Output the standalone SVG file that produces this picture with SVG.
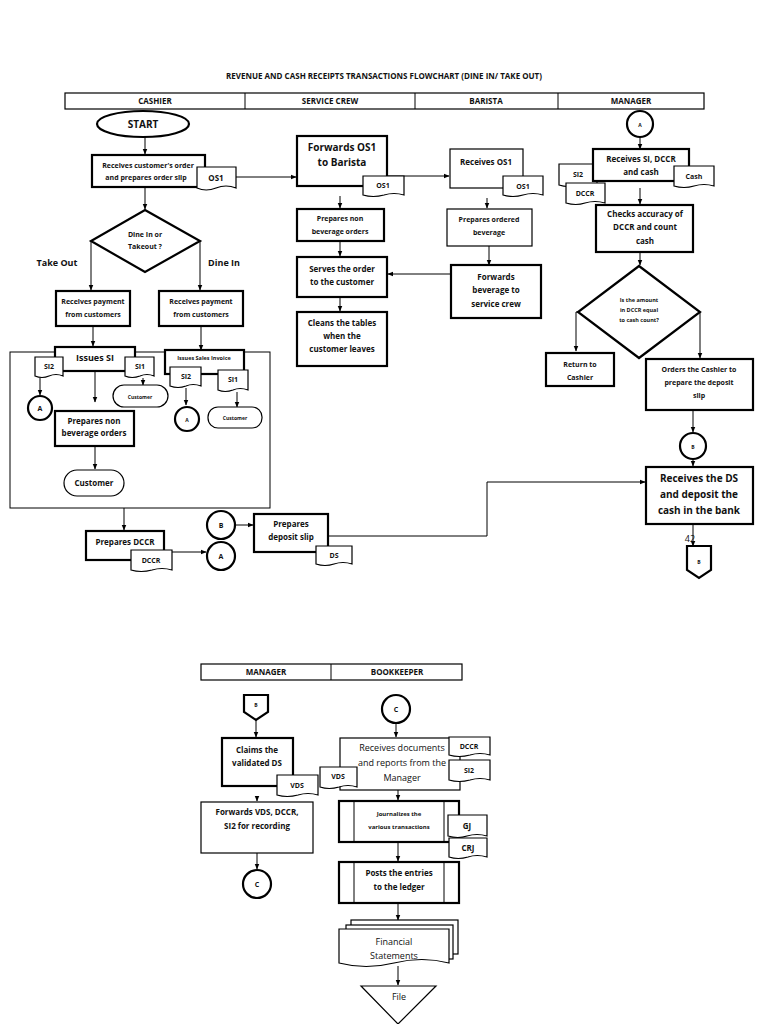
<svg xmlns="http://www.w3.org/2000/svg" width="768" height="1024" viewBox="0 0 768 1024">
<style>
text{font-family:"Open Sans","Liberation Sans",sans-serif;font-weight:bold;fill:#111;text-anchor:middle}
.t7{font-size:7px}.t8{font-size:8px}.t9{font-size:9px}.t10{font-size:10px}.t11{font-size:11px}
.b{fill:#fff;stroke:#000;stroke-width:1.2}
.k{fill:#fff;stroke:#000;stroke-width:2.2}
.d{fill:#fff;stroke:#000;stroke-width:1.2}
.c{fill:none;stroke:#000;stroke-width:1}
.ca{fill:none;stroke:#000;stroke-width:1;marker-end:url(#ah)}
</style>
<defs>
<marker id="ah" viewBox="0 0 10 10" refX="9" refY="5" markerWidth="6" markerHeight="6" orient="auto"><path d="M0,1 L10,5 L0,9 z" fill="#000"/></marker>
</defs>
<rect width="768" height="1024" fill="#fff"/>
<text x="384" y="79" class="t8">REVENUE AND CASH RECEIPTS TRANSACTIONS FLOWCHART (DINE IN/ TAKE OUT)</text>
<g id="header1">
<rect x="65" y="93" width="639" height="16" class="b"/>
<line x1="245" y1="93" x2="245" y2="109" class="c"/><line x1="415" y1="93" x2="415" y2="109" class="c"/><line x1="558" y1="93" x2="558" y2="109" class="c"/>
<text x="155" y="104" class="t8">CASHIER</text><text x="330" y="104" class="t8">SERVICE CREW</text><text x="486" y="104" class="t8">BARISTA</text><text x="631" y="104" class="t8">MANAGER</text>
</g>
<g id="container"><rect x="10" y="352" width="260" height="156" fill="none" stroke="#000" stroke-width="1"/></g>
<g id="connectors">
<path d="M145,137 V154" class="ca"/><path d="M145,187 V209" class="ca"/>
<path d="M236,177 H296" class="ca"/><path d="M387,176 H449" class="ca"/>
<path d="M91,241 V290" class="ca"/><path d="M200,241 V290" class="ca"/>
<path d="M93,326 V346" class="ca"/><path d="M201,326 V350" class="ca"/>
<path d="M40,378 V395" class="ca"/><path d="M95,371 V402" class="ca"/><path d="M143,378 V385" class="ca"/>
<path d="M95,446 V469" class="ca"/><path d="M186,388 V405" class="ca"/><path d="M237,392 V407" class="ca"/>
<path d="M340,196 V208" class="ca"/><path d="M340,241 V256" class="ca"/><path d="M340,297 V311" class="ca"/>
<path d="M487,198 V208" class="ca"/><path d="M489,246 V265" class="ca"/><path d="M451,274 H388" class="ca"/>
<path d="M124,508 V530" class="ca"/><path d="M172,552 H206" class="ca"/><path d="M235,525 H253" class="ca"/>
<path d="M328,536 H487 V482 H645" class="ca"/>
<path d="M640,137 V149" class="ca"/><path d="M640,188 V204" class="ca"/><path d="M640,252 V265" class="ca"/>
<path d="M578,312 H576 V351" class="ca"/><path d="M700,312 V358" class="ca"/>
<path d="M693,410 V432" class="ca"/><path d="M693,459 V466" class="ca"/><path d="M693,524 V546" class="ca"/>
<path d="M256,720 V737" class="ca"/><path d="M257,797 V801" class="ca"/><path d="M257,853 V869" class="ca"/>
<path d="M396,723 V737" class="ca"/><path d="M398,790 V800" class="ca"/><path d="M398,842 V861" class="ca"/>
<path d="M398,903 V920" class="ca"/><path d="M398,966 V985" class="ca"/>
</g>
<g id="start"><ellipse cx="143" cy="124" rx="46" ry="13" class="k"/><text x="143" y="128" class="t10">START</text></g>
<g id="receives-order"><rect x="92" y="155" width="113" height="32" class="k"/><text x="148" y="168" class="t7">Receives customer's order</text><text x="146" y="180" class="t7">and prepares order slip</text></g>
<g id="os1a"><path d="M197,167 H236 V188 Q226,184 216,188 Q206,192 197,188 Z" class="d"/><text x="216" y="181" class="t8">OS1</text></g>
<g id="decision1"><path d="M145,210 L200,241 L145,272 L91,241 Z" class="k"/><text x="145" y="237" class="t7">Dine In or</text><text x="145" y="249" class="t7">Takeout ?</text></g>
<text x="57" y="266" class="t9">Take Out</text><text x="224" y="266" class="t9">Dine In</text>
<g id="pay1"><rect x="56" y="291" width="74" height="35" class="k"/><text x="93" y="304" class="t7">Receives payment</text><text x="93" y="317" class="t7">from customers</text></g>
<g id="pay2"><rect x="159" y="291" width="84" height="35" class="k"/><text x="201" y="304" class="t7">Receives payment</text><text x="201" y="317" class="t7">from customers</text></g>
<g id="issues-si"><rect x="55" y="347" width="80" height="24" class="k"/><text x="95" y="361" class="t9">Issues SI</text></g>
<g id="si2a"><path d="M35,357 H63 V376 Q56,373 49,376 Q42,379 35,376 Z" class="d"/><text x="49" y="369" class="t7">SI2</text></g>
<g id="si1a"><path d="M125,357 H154 V376 Q147,373 140,376 Q132,379 125,376 Z" class="d"/><text x="140" y="369" class="t7">SI1</text></g>
<g id="A1"><circle cx="40" cy="408" r="12" class="k"/><text x="40" y="411" class="t7">A</text></g>
<g id="cust1"><rect x="113" y="385" width="55" height="22" rx="11" class="b"/><text x="140" y="399" class="t7" style="font-size:5px">Customer</text></g>
<g id="prep-nonbev1"><rect x="55" y="411" width="79" height="35" class="k"/><text x="94" y="424" class="t8">Prepares non</text><text x="94" y="436" class="t8">beverage orders</text></g>
<g id="cust2"><rect x="64" y="470" width="60" height="26" rx="13" class="b"/><text x="94" y="486" class="t8">Customer</text></g>
<g id="issues-sales-inv"><rect x="165" y="350" width="79" height="24" class="k"/><text x="204" y="360" class="t7" style="font-size:5.5px">Issues Sales Invoice</text></g>
<g id="si2b"><path d="M170,367 H201 V386 Q193,383 186,386 Q178,389 170,386 Z" class="d"/><text x="186" y="379" class="t7">SI2</text></g>
<g id="si1b"><path d="M218,370 H248 V390 Q240,387 233,390 Q225,393 218,390 Z" class="d"/><text x="233" y="382" class="t7">SI1</text></g>
<g id="A2"><circle cx="187" cy="419" r="12" class="k"/><text x="187" y="422" class="t7" style="font-size:5px">A</text></g>
<g id="cust3"><rect x="208" y="407" width="54" height="21" rx="10" class="b"/><text x="235" y="420" class="t7" style="font-size:5px">Customer</text></g>
<g id="prep-dccr"><rect x="86" y="531" width="78" height="29" class="k"/><text x="125" y="545" class="t8">Prepares DCCR</text></g>
<g id="dccr1"><path d="M131,550 H172 V570 Q162,567 152,570 Q141,573 131,570 Z" class="d"/><text x="151" y="563" class="t7">DCCR</text></g>
<g id="A3"><circle cx="221" cy="556" r="14" class="k"/><text x="221" y="559" class="t7">A</text></g>
<g id="B1"><circle cx="221" cy="525" r="14" class="k"/><text x="221" y="528" class="t7">B</text></g>
<g id="prep-ds"><rect x="254" y="514" width="74" height="38" class="k"/><text x="291" y="527" class="t8">Prepares</text><text x="291" y="540" class="t8">deposit slip</text></g>
<g id="ds1"><path d="M316,546 H352 V564 Q343,561 334,564 Q325,567 316,564 Z" class="d"/><text x="334" y="558" class="t7">DS</text></g>
<g id="fwd-os1"><rect x="297" y="136" width="90" height="50" class="k"/><text x="342" y="151" class="t10">Forwards OS1</text><text x="342" y="166" class="t10">to Barista</text></g>
<g id="os1b"><path d="M363,176 H404 V195 Q394,192 384,195 Q373,198 363,195 Z" class="d"/><text x="383" y="188" class="t7">OS1</text></g>
<g id="prep-nonbev2"><rect x="297" y="209" width="87" height="32" class="k"/><text x="340" y="221" class="t7">Prepares non</text><text x="340" y="234" class="t7">beverage orders</text></g>
<g id="serves"><rect x="297" y="257" width="90" height="40" class="k"/><text x="342" y="272" class="t8">Serves the order</text><text x="342" y="285" class="t8">to the customer</text></g>
<g id="cleans"><rect x="297" y="312" width="90" height="54" class="k"/><text x="342" y="326" class="t8">Cleans the tables</text><text x="342" y="339" class="t8">when the</text><text x="342" y="352" class="t8">customer leaves</text></g>
<g id="recv-os1"><rect x="450" y="149" width="73" height="39" class="b"/><text x="486" y="165" class="t8">Receives OS1</text></g>
<g id="os1c"><path d="M503,176 H543 V195 Q533,192 523,195 Q513,198 503,195 Z" class="d"/><text x="523" y="189" class="t7">OS1</text></g>
<g id="prep-bev"><rect x="447" y="209" width="85" height="37" class="b"/><text x="489" y="222" class="t7">Prepares ordered</text><text x="489" y="235" class="t7">beverage</text></g>
<g id="fwd-bev"><rect x="451" y="265" width="90" height="53" class="k"/><text x="496" y="280" class="t8">Forwards</text><text x="496" y="293" class="t8">beverage to</text><text x="496" y="307" class="t8">service crew</text></g>
<g id="A4"><circle cx="640" cy="124" r="13" class="k"/><text x="640" y="127" class="t7" style="font-size:5px">A</text></g>
<g id="si2c"><path d="M559,164 H597 V185 Q588,182 578,185 Q568,188 559,185 Z" class="d"/><text x="578" y="177" class="t7">SI2</text></g>
<g id="dccr2"><path d="M566,183 H605 V203 Q595,200 585,203 Q576,206 566,203 Z" class="d"/><text x="585" y="196" class="t7">DCCR</text></g>
<g id="recv-si"><rect x="593" y="149" width="96" height="32" class="k"/><text x="641" y="162" class="t8">Receives SI, DCCR</text><text x="641" y="175" class="t8">and cash</text></g>
<g id="cash"><path d="M674,166 H714 V186 Q704,183 694,186 Q684,189 674,186 Z" class="d"/><text x="694" y="179" class="t7">Cash</text></g>
<g id="checks"><rect x="596" y="205" width="97" height="47" class="k"/><text x="645" y="217" class="t8">Checks accuracy of</text><text x="645" y="230" class="t8">DCCR and count</text><text x="645" y="244" class="t8">cash</text></g>
<g id="decision2"><path d="M639,266 L700,312 L639,358 L578,312 Z" class="k"/><text x="639" y="302" class="t7" style="font-size:5.5px">Is the amount</text><text x="639" y="312" class="t7" style="font-size:5.5px">in DCCR equal</text><text x="639" y="322" class="t7" style="font-size:5.5px">to cash count?</text></g>
<g id="return"><rect x="546" y="353" width="68" height="33" class="k"/><text x="580" y="367" class="t7">Return to</text><text x="580" y="380" class="t7">Cashier</text></g>
<g id="orders"><rect x="646" y="359" width="107" height="51" class="k"/><text x="699" y="372" class="t7">Orders the Cashier to</text><text x="699" y="385" class="t7">prepare the deposit</text><text x="699" y="398" class="t7">slip</text></g>
<g id="B2"><circle cx="693" cy="446" r="13" class="k"/><text x="693" y="449" class="t7" style="font-size:5px">B</text></g>
<g id="recv-ds"><rect x="646" y="467" width="107" height="57" class="k"/><text x="699" y="482" class="t10">Receives the DS</text><text x="699" y="498" class="t10">and deposit the</text><text x="699" y="514" class="t10">cash in the bank</text></g>
<text x="690" y="542" class="t9" style="font-weight:normal">42</text>
<g id="offpage1"><path d="M687,546 H711 V570 L699,578 L687,570 Z" class="k"/><text x="699" y="564" class="t7" style="font-size:5px">B</text></g>
<g id="header2">
<rect x="201" y="664" width="261" height="16" class="b"/><line x1="331" y1="664" x2="331" y2="680" class="c"/>
<text x="266" y="675" class="t8">MANAGER</text><text x="397" y="675" class="t8">BOOKKEEPER</text>
</g>
<g id="offpage2"><path d="M244,695 H268 V712 L256,720 L244,712 Z" class="k"/><text x="256" y="707" class="t7" style="font-size:5px">B</text></g>
<g id="claims"><rect x="222" y="738" width="71" height="48" class="k"/><text x="257" y="753" class="t8">Claims the</text><text x="257" y="766" class="t8">validated DS</text></g>
<g id="vds1"><path d="M277,775 H318 V795 Q308,792 298,795 Q287,798 277,795 Z" class="d"/><text x="297" y="788" class="t7">VDS</text></g>
<g id="forwards"><rect x="201" y="802" width="112" height="51" class="b"/><text x="257" y="815" class="t8">Forwards VDS, DCCR,</text><text x="257" y="829" class="t8">SI2 for recording</text></g>
<g id="C1"><circle cx="257" cy="884" r="14" class="k"/><text x="257" y="887" class="t7">C</text></g>
<g id="C2"><circle cx="396" cy="709" r="14" class="k"/><text x="396" y="712" class="t7">C</text></g>
<g id="recv-docs"><rect x="340" y="738" width="120" height="52" class="b"/><text x="402" y="751" class="t9" style="font-weight:normal">Receives documents</text><text x="402" y="766" class="t9" style="font-weight:normal">and reports from the</text><text x="402" y="781" class="t9" style="font-weight:normal">Manager</text></g>
<g id="vds2"><path d="M320,767 H357 V787 Q348,784 339,787 Q329,790 320,787 Z" class="d"/><text x="338" y="779" class="t7">VDS</text></g>
<g id="dccr3"><path d="M449,737 H490 V755 Q480,752 470,755 Q459,758 449,755 Z" class="d"/><text x="469" y="749" class="t7">DCCR</text></g>
<g id="si2d"><path d="M449,760 H490 V780 Q480,777 470,780 Q459,783 449,780 Z" class="d"/><text x="469" y="773" class="t7">SI2</text></g>
<g id="journalizes"><rect x="339" y="801" width="120" height="41" class="k"/><line x1="354" y1="801" x2="354" y2="842" class="c" stroke-width="1.5"/><line x1="444" y1="801" x2="444" y2="842" class="c" stroke-width="1.5"/><text x="399" y="816" class="t7" style="font-size:6px">Journalizes the</text><text x="399" y="829" class="t7" style="font-size:6px">various transactions</text></g>
<g id="gj"><path d="M448,815 H487 V836 Q477,833 467,836 Q458,839 448,836 Z" class="d"/><text x="467" y="829" class="t8">GJ</text></g>
<g id="crj"><path d="M449,838 H487 V857 Q477,854 468,857 Q458,860 449,857 Z" class="d"/><text x="468" y="851" class="t8">CRJ</text></g>
<g id="posts"><rect x="339" y="862" width="120" height="41" class="k"/><line x1="354" y1="862" x2="354" y2="903" class="c" stroke-width="1.5"/><line x1="444" y1="862" x2="444" y2="903" class="c" stroke-width="1.5"/><text x="399" y="876" class="t8">Posts the entries</text><text x="399" y="890" class="t8">to the ledger</text></g>
<g id="fin-stmt">
<rect x="351" y="920" width="107" height="34" class="d"/>
<rect x="346" y="925" width="107" height="34" class="d"/>
<path d="M339,929 H449 V963 Q422,956 394,963 Q366,970 339,963 Z" class="d"/>
<text x="394" y="945" class="t9" style="font-weight:normal">Financial</text><text x="394" y="959" class="t9" style="font-weight:normal">Statements</text>
</g>
<g id="file"><path d="M361,986 H436 L398,1024 Z" class="b"/><text x="399" y="1000" class="t9" style="font-weight:normal">File</text></g>
</svg>
